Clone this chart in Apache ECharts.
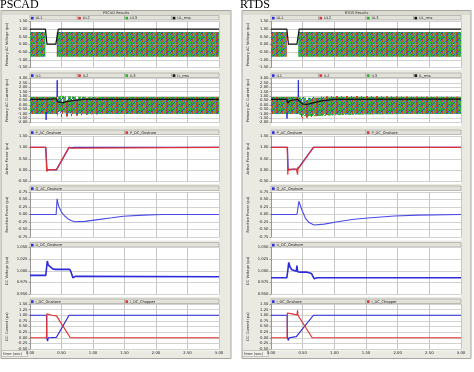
<!DOCTYPE html>
<html><head><meta charset="utf-8">
<script src="https://cdn.jsdelivr.net/npm/echarts@6/dist/echarts.min.js"></script>
<style>html,body{margin:0;padding:0;background:#fff;}#c{width:474px;height:372px;}</style>
</head><body><div id="c"></div>
<script>
// ================= DATA =================
const timeMin = 0, timeMax = 3, timeStep = 0.5;

const yNames = ['Primary AC Voltage (pu)', 'Primary AC Current (pu)', 'Active Power (pu)', 'Reactive Power (pu)', 'DC Voltage (pu)', 'DC Current (pu)'];
const yMins = [-1.5, -2.0, -0.5, -0.75, 0.95, -0.5];
const yMaxs = [1.5, 3.0, 1.5, 0.75, 1.05, 1.5];
const ySteps = [0.5, 0.5, 0.5, 0.25, 0.025, 0.25];
const yDecimals = [2, 2, 2, 2, 3, 2];

// ---------- PSCAD ----------
const pscadVoltT  = [0, 0.245, 0.245, 0.425, 0.425, 3.0];
const pscadVoltUp = [0.82, 0.82, 0, 0, 0.82, 0.82];
const pscadVoltLo = [-0.80, -0.80, 0, 0, -0.80, -0.80];
const pscadVrmsT  = [0, 0.245, 0.27, 0.41, 0.45, 3.0];
const pscadVrms   = [1.0, 1.0, 0.02, 0.02, 1.0, 1.0];

const pscadCurT   = [0, 0.25, 0.43, 0.45, 0.5, 0.55, 0.7, 0.9, 1.2, 3.0];
const pscadIL1Up  = [0.9, 0.9, 0.9, 0.9, 0.9, 0.9, 0.9, 0.9, 0.9, 0.9];
const pscadIL1Lo  = [-1.02, -1.02, -1.02, -1.02, -1.02, -1.02, -1.02, -1.02, -1.02, -1.02];
const pscadIL2Up  = [0.9, 0.9, 0.9, 0.2, 0.3, 0.4, 0.6, 0.8, 0.9, 0.9];
const pscadIL2Lo  = [-1.02, -1.02, -1.02, -1.48, -1.42, -1.36, -1.25, -1.12, -1.03, -1.02];
const pscadIL3Up  = [0.9, 0.9, 0.9, 1.1, 1.08, 1.02, 0.95, 0.9, 0.9, 0.9];
const pscadIL3Lo  = [-1.02, -1.02, -1.02, -0.7, -0.8, -0.9, -1.0, -1.02, -1.02, -1.02];
const pscadIL1SpikeT = [0.252, 0.256, 0.26, 0.34, 0.428, 0.432, 0.436];
const pscadIL1Spike  = [-0.8, -1.7, -0.8, null, 0.9, 2.8, 0.9];
const pscadIrmsT  = [0, 0.25, 0.27, 0.42, 0.44, 0.47, 0.52, 0.6, 0.7, 0.85, 3.0];
const pscadIrms   = [0.62, 0.62, 0.7, 0.7, 0.35, 0.2, 0.25, 0.4, 0.52, 0.62, 0.62];

const pscadPacT = [0, 0.25, 0.27, 0.28, 0.42, 0.44, 0.62, 0.66, 0.7, 3.0];
const pscadPac  = [1.0, 1.0, 0.02, 0.0, 0.01, 0.05, 1.0, 0.98, 1.0, 1.0];
const pscadPdcT = [0, 0.25, 0.265, 0.28, 0.3, 0.42, 0.44, 0.62, 0.64, 0.67, 0.7, 3.0];
const pscadPdc  = [1.0, 1.0, -0.05, 0.01, 0.02, 0.02, 0.04, 1.0, 1.02, 0.97, 1.0, 1.0];

const pscadQT = [0, 0.25, 0.255, 0.26, 0.415, 0.43, 0.44, 0.46, 0.5, 0.55, 0.6, 0.65, 0.71, 0.87, 1.08, 1.3, 1.48, 1.8, 2.1, 3.0];
const pscadQ  = [0, 0, 0.02, 0, 0, 0.52, 0.4, 0.25, 0.08, -0.05, -0.14, -0.2, -0.24, -0.23, -0.17, -0.11, -0.06, -0.02, 0, 0];

const pscadUdcT = [0, 0.25, 0.275, 0.29, 0.32, 0.36, 0.4, 0.58, 0.61, 0.63, 0.65, 0.68, 0.72, 3.0];
const pscadUdc  = [0.990, 0.990, 1.021, 1.012, 1.008, 1.004, 1.003, 1.003, 1.005, 1.003, 0.998, 0.985, 0.988, 0.987];

const pscadIdcT = [0, 0.262, 0.268, 0.28, 0.29, 0.42, 0.43, 0.62, 0.64, 3.0];
const pscadIdc  = [1, 1, -0.05, -0.15, 0.0, 0.02, 0.03, 1.0, 1.0, 1.0];
const pscadIchT = [0, 0.262, 0.268, 0.28, 0.35, 0.42, 0.43, 0.44, 0.64, 0.66, 3.0];
const pscadIch  = [0, 0, 1.06, 1.03, 1.0, 0.97, 1.0, 0.95, 0.0, 0.0, 0.0];

// ---------- RTDS ----------
const rtdsVoltT  = [0, 0.25, 0.25, 0.43, 0.43, 3.0];
const rtdsVoltUp = [0.82, 0.82, 0, 0, 0.82, 0.82];
const rtdsVoltLo = [-0.80, -0.80, 0, 0, -0.80, -0.80];
const rtdsVrmsT  = [0, 0.25, 0.275, 0.41, 0.445, 3.0];
const rtdsVrms   = [1.0, 1.0, 0.02, 0.02, 1.0, 1.0];

const rtdsCurT   = [0, 0.25, 0.43, 0.45, 0.5, 0.6, 0.8, 1.0, 1.5, 2.2, 3.0];
const rtdsIL1Up  = [0.9, 0.9, 0.9, 0.9, 0.9, 0.9, 0.9, 0.9, 0.9, 0.9, 0.9];
const rtdsIL1Lo  = [-1.02, -1.02, -1.02, -1.02, -1.02, -1.02, -1.02, -1.02, -1.02, -1.02, -1.02];
const rtdsIL2Up  = [0.9, 0.9, 0.9, 0.1, 0.3, 0.6, 0.95, 1.0, 1.0, 0.95, 0.92];
const rtdsIL2Lo  = [-1.02, -1.02, -1.02, -1.65, -1.55, -1.4, -1.2, -1.1, -1.05, -1.02, -1.02];
const rtdsIL3Up  = [0.9, 0.9, 0.9, 0.9, 0.85, 0.8, 0.85, 0.9, 0.9, 0.9, 0.9];
const rtdsIL3Lo  = [-1.02, -1.02, -1.02, -1.1, -1.25, -1.3, -1.25, -1.18, -1.1, -1.04, -1.02];
const rtdsIL1SpikeT = [0.25, 0.253, 0.256, 0.34, 0.428, 0.432, 0.436];
const rtdsIL1Spike  = [-0.9, -1.55, -0.9, null, 0.9, 2.8, 0.9];
const rtdsIrmsT  = [0, 0.25, 0.265, 0.28, 0.3, 0.42, 0.44, 0.5, 0.56, 0.65, 0.8, 1.0, 3.0];
const rtdsIrms   = [0.62, 0.62, 0.2, 0.0, 0.5, 0.62, 0.4, 0.1, 0.05, 0.2, 0.45, 0.62, 0.65];

const rtdsPacT = [0, 0.26, 0.27, 0.42, 0.44, 0.67, 3.0];
const rtdsPac  = [1, 1, 0.03, 0.05, 0.08, 1, 1];
const rtdsPdcT = [0, 0.255, 0.26, 0.265, 0.27, 0.28, 0.3, 0.35, 0.4, 0.415, 0.42, 0.425, 0.43, 0.45, 0.67, 0.7, 3.0];
const rtdsPdc  = [1, 1, 0.6, -0.2, 0.1, 0.0, 0.05, 0.05, 0.05, 0.07, -0.2, 0.15, 0.05, 0.1, 1.0, 1.0, 1.0];

const rtdsQT = [0, 0.25, 0.255, 0.26, 0.41, 0.44, 0.49, 0.545, 0.6, 0.68, 0.84, 1.05, 1.31, 1.58, 1.95, 2.32, 3.0];
const rtdsQ  = [0, 0, 0.02, 0, 0, 0.44, 0.14, -0.13, -0.27, -0.35, -0.32, -0.24, -0.16, -0.11, -0.05, -0.02, 0];

const rtdsUdcT = [0, 0.25, 0.265, 0.28, 0.3, 0.33, 0.36, 0.40, 0.41, 0.42, 0.46, 0.57, 0.6, 0.64, 0.68, 0.73, 3.0];
const rtdsUdc  = [0.985, 0.985, 1.0, 1.018, 1.008, 1.002, 1.0, 0.999, 1.011, 0.998, 0.997, 0.997, 0.999, 0.994, 0.983, 0.985, 0.985];

const rtdsIdcT = [0, 0.255, 0.26, 0.275, 0.285, 0.3, 0.35, 0.4, 0.43, 0.67, 0.7, 3.0];
const rtdsIdc  = [1, 1, 0.0, -0.12, 0.0, 0.05, 0.03, 0.05, 0.05, 1.0, 1.0, 1.0];
const rtdsIchT = [0, 0.255, 0.26, 0.28, 0.35, 0.41, 0.42, 0.425, 0.43, 0.65, 0.67, 3.0];
const rtdsIch  = [0, 0, 1.1, 1.08, 1.05, 1.01, 1.22, 1.0, 1.0, 0.0, 0.0, 0.0];

// ================= LAYOUT / STYLE =================
const cols = [
  { title: 'PSCAD', panelTitle: 'PSCAD Results', titleX: 0, panelX: 1, panelW: 230, left: 30, width: 189 },
  { title: 'RTDS', panelTitle: 'RTDS Results', titleX: 240, panelX: 242, panelW: 229, left: 271, width: 190 }
];
const rows = [
  { legTop: 15.5, whiteBot: 70, gTop: 21.5, gBot: 67.5 },
  { legTop: 73, whiteBot: 126, gTop: 78.5, gBot: 122.5 },
  { legTop: 130, whiteBot: 184, gTop: 136, gBot: 181.5 },
  { legTop: 186, whiteBot: 240.5, gTop: 192, gBot: 237 },
  { legTop: 242.5, whiteBot: 297, gTop: 247.5, gBot: 294 },
  { legTop: 299, whiteBot: 350.5, gTop: 304, gBot: 349 }
];
const LEG_H = 4.5;
const C_BLUE = '#2b2bdc', C_RED = '#e03232', C_GREEN = '#22b422', C_BLACK = '#111';

// texture of the densely drawn 50 Hz phase traces (B = phase 1, R = phase 2, G = phase 3)
const TEXTURE = [
  'GRGGBGRRGG',
  'GRGBGGRRGG',
  'GRBGGGRRGB',
  'GBRGGGRRBG',
  'BGRGGGRBGG',
  'GGRGGGBRGG'
];
function makePattern(ch, color) {
  const c = document.createElement('canvas');
  c.width = TEXTURE[0].length; c.height = TEXTURE.length;
  const ctx = c.getContext('2d');
  ctx.fillStyle = color;
  TEXTURE.forEach((row, y) => { for (let x = 0; x < row.length; x++) if (row[x] === ch) ctx.fillRect(x, y, 1, 1); });
  return { image: c, repeat: 'repeat' };
}
const patBlue = makePattern('B', '#2a4ad8');
const patRed = makePattern('R', '#c84030');
const patGreen = makePattern('G', '#40b040');

const pts = (t, v) => t.map((x, i) => [x, v[i] == null ? '-' : v[i]]);

function colSeries(d) {
  return [
    [ { band: true, name: 'UL1', t: d.vT, up: d.vUp, lo: d.vLo, pat: patBlue },
      { band: true, name: 'UL2', t: d.vT, up: d.vUp, lo: d.vLo, pat: patRed },
      { band: true, name: 'UL3', t: d.vT, up: d.vUp, lo: d.vLo, pat: patGreen },
      { name: 'UL_rms', t: d.vrT, v: d.vr, color: C_BLACK, w: 1.2 } ],
    [ { band: true, name: 'IL1', t: d.cT, up: d.i1u, lo: d.i1l, pat: patBlue },
      { band: true, name: 'IL2', t: d.cT, up: d.i2u, lo: d.i2l, pat: patRed },
      { band: true, name: 'IL3', t: d.cT, up: d.i3u, lo: d.i3l, pat: patGreen },
      { name: 'IL1', t: d.spT, v: d.sp, color: C_BLUE, w: 1 },
      { name: 'IL_rms', t: d.irT, v: d.ir, color: C_BLACK, w: 1.2 } ],
    [ { name: 'P_AC_Onshore', t: d.pacT, v: d.pac, color: C_BLUE, w: 1.2 },
      { name: 'P_DC_Onshore', t: d.pdcT, v: d.pdc, color: C_RED, w: 1.2 } ],
    [ { name: 'Q_AC_Onshore', t: d.qT, v: d.q, color: '#4a4ae6', w: 1.1 } ],
    [ { name: 'U_DC_Onshore', t: d.uT, v: d.u, color: C_BLUE, w: 1.6 } ],
    [ { name: 'I_DC_Onshore', t: d.idT, v: d.id, color: C_BLUE, w: 1.2 },
      { name: 'I_DC_Chopper', t: d.ichT, v: d.ich, color: C_RED, w: 1.2 } ]
  ];
}
const colData = [
  colSeries({ vT: pscadVoltT, vUp: pscadVoltUp, vLo: pscadVoltLo, vrT: pscadVrmsT, vr: pscadVrms,
    cT: pscadCurT, i1u: pscadIL1Up, i1l: pscadIL1Lo, i2u: pscadIL2Up, i2l: pscadIL2Lo, i3u: pscadIL3Up, i3l: pscadIL3Lo,
    spT: pscadIL1SpikeT, sp: pscadIL1Spike, irT: pscadIrmsT, ir: pscadIrms,
    pacT: pscadPacT, pac: pscadPac, pdcT: pscadPdcT, pdc: pscadPdc, qT: pscadQT, q: pscadQ,
    uT: pscadUdcT, u: pscadUdc, idT: pscadIdcT, id: pscadIdc, ichT: pscadIchT, ich: pscadIch }),
  colSeries({ vT: rtdsVoltT, vUp: rtdsVoltUp, vLo: rtdsVoltLo, vrT: rtdsVrmsT, vr: rtdsVrms,
    cT: rtdsCurT, i1u: rtdsIL1Up, i1l: rtdsIL1Lo, i2u: rtdsIL2Up, i2l: rtdsIL2Lo, i3u: rtdsIL3Up, i3l: rtdsIL3Lo,
    spT: rtdsIL1SpikeT, sp: rtdsIL1Spike, irT: rtdsIrmsT, ir: rtdsIrms,
    pacT: rtdsPacT, pac: rtdsPac, pdcT: rtdsPdcT, pdc: rtdsPdc, qT: rtdsQT, q: rtdsQ,
    uT: rtdsUdcT, u: rtdsUdc, idT: rtdsIdcT, id: rtdsIdc, ichT: rtdsIchT, ich: rtdsIch })
];
const legendRows = [
  [['UL1', C_BLUE], ['UL2', C_RED], ['UL3', C_GREEN], ['UL_rms', C_BLACK]],
  [['IL1', C_BLUE], ['IL2', C_RED], ['IL3', C_GREEN], ['IL_rms', C_BLACK]],
  [['P_AC_Onshore', C_BLUE], ['P_DC_Onshore', C_RED]],
  [['Q_AC_Onshore', C_BLUE]],
  [['U_DC_Onshore', C_BLUE]],
  [['I_DC_Onshore', C_BLUE], ['I_DC_Chopper', C_RED]]
];

const grid = [], xAxis = [], yAxis = [], series = [], legend = [], gfx = [];
const FONT = 'DejaVu Sans';

cols.forEach((c, ci) => {
  gfx.push({ type: 'rect', z: -20, shape: { x: c.panelX, y: 10.5, width: c.panelW, height: 348 },
    style: { fill: '#eae9e2', stroke: '#a6a69e', lineWidth: 1 } });
  gfx.push({ type: 'rect', z: -19, shape: { x: c.panelX + 1, y: 11, width: c.panelW - 2, height: 4 },
    style: { fill: '#dcdbd2' } });
  gfx.push({ type: 'text', z: -18, style: { text: c.panelTitle, x: c.panelX + c.panelW / 2, y: 13.2,
    align: 'center', verticalAlign: 'middle', font: '3.6px "' + FONT + '"', fill: '#333' } });
  gfx.push({ type: 'text', z: 5, style: { text: c.title, x: c.titleX, y: -1.5,
    align: 'left', verticalAlign: 'top', font: '12px "Liberation Serif"', fill: '#000' } });
  gfx.push({ type: 'rect', z: -18, shape: { x: c.panelX + 0.5, y: 350.5, width: c.left - c.panelX - 3, height: 6 },
    style: { fill: '#f2f1ec', stroke: '#a6a69e', lineWidth: 0.6 } });
  gfx.push({ type: 'text', z: -17, style: { text: 'time (sec)', x: c.panelX + 2, y: 353.6,
    align: 'left', verticalAlign: 'middle', font: '3.8px "' + FONT + '"', fill: '#222' } });

  rows.forEach((r, ri) => {
    const gi = ci * rows.length + ri;
    gfx.push({ type: 'rect', z: -15, shape: { x: c.left, y: r.legTop + LEG_H, width: c.width, height: r.whiteBot - r.legTop - LEG_H },
      style: { fill: '#ffffff' } });
    const entries = legendRows[ri];
    const cw = c.width / entries.length;
    entries.forEach((e, k) => {
      gfx.push({ type: 'rect', z: -14, shape: { x: c.left + k * cw, y: r.legTop, width: cw, height: LEG_H },
        style: { fill: '#e3e2da', stroke: '#9c9c94', lineWidth: 0.6 } });
      legend.push({ show: true, left: c.left + k * cw + 1, top: r.legTop + 0.6, padding: 0, itemGap: 0,
        itemWidth: 2.6, itemHeight: 2.6, selectedMode: false, orient: 'horizontal',
        textStyle: { fontSize: 3.6, fontFamily: FONT, color: '#222', padding: [0, 0, 0, -3] },
        data: [{ name: e[0], icon: 'rect', itemStyle: { color: e[1], borderWidth: 0 } }] });
    });

    grid.push({ left: c.left, top: r.gTop, width: c.width, height: r.gBot - r.gTop, containLabel: false });
    xAxis.push({ gridIndex: gi, type: 'value', min: timeMin, max: timeMax, interval: timeStep,
      axisLine: { show: false }, axisTick: { show: false },
      splitLine: { show: true, lineStyle: { color: '#c6c6c6', width: 1 } },
      axisLabel: { show: ri === rows.length - 1, fontSize: 3.8, fontFamily: FONT, color: '#222', margin: 2.5,
        formatter: v => v.toFixed(2) } });
    const dec = yDecimals[ri];
    yAxis.push({ gridIndex: gi, type: 'value', min: yMins[ri], max: yMaxs[ri], interval: ySteps[ri],
      name: yNames[ri], nameLocation: 'middle', nameGap: 21,
      nameTextStyle: { fontSize: 3.6, fontFamily: FONT, color: '#333' },
      axisLine: { show: true, lineStyle: { color: '#8a8a8a', width: 0.8 } },
      axisTick: { show: true, length: 1.5, lineStyle: { color: '#8a8a8a', width: 0.8 } },
      axisLabel: { fontSize: 3.8, fontFamily: FONT, color: '#222', margin: 2.5, formatter: v => v.toFixed(dec) },
      splitLine: { show: true, lineStyle: { color: '#d2d2d2', width: 1 } } });

    colData[ci][ri].forEach(s => {
      if (s.band) {
        [s.up, s.lo].forEach(env => {
          series.push({ type: 'line', name: s.name, xAxisIndex: gi, yAxisIndex: gi, data: pts(s.t, env),
            symbol: 'none', silent: true, z: 2, lineStyle: { width: 0, opacity: 0 },
            itemStyle: { color: '#888' },
            areaStyle: { color: s.pat, opacity: 1 } });
        });
      } else {
        series.push({ type: 'line', name: s.name, xAxisIndex: gi, yAxisIndex: gi, data: pts(s.t, s.v),
          symbol: 'none', silent: true, z: 3, connectNulls: false,
          itemStyle: { color: s.color }, lineStyle: { color: s.color, width: s.w } });
      }
    });
  });
});

const chart = echarts.init(document.getElementById('c'), null, { renderer: 'canvas' });
chart.setOption({ animation: false, backgroundColor: '#ffffff', grid, xAxis, yAxis, series, legend,
  graphic: { elements: gfx } });
</script>
</body></html>
